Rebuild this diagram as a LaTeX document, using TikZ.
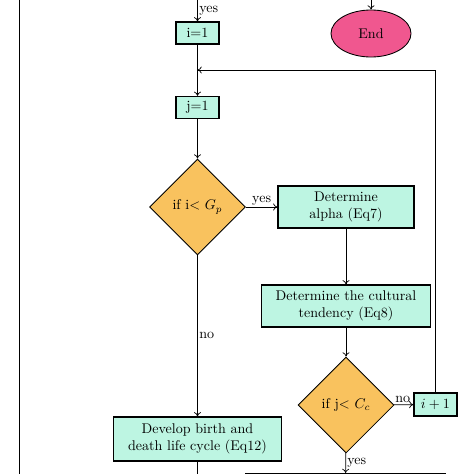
\documentclass[tikz,border=0pt]{standalone}
\usetikzlibrary{shapes.geometric,arrows.meta}
\definecolor{boxfill}{HTML}{BDF5E2}
\definecolor{decfill}{HTML}{F9C25E}
\definecolor{endfill}{HTML}{F0578F}
\tikzset{
  procbox/.style={draw=black, line width=0.9pt, fill=boxfill, align=center, inner sep=1pt},
  decision/.style={draw=black, line width=0.6pt, fill=decfill, diamond, aspect=1, minimum size=2.4cm, inner sep=0pt},
  endnode/.style={draw=black, line width=0.6pt, fill=endfill, ellipse, minimum width=2cm, minimum height=1.175cm, inner sep=0pt},
  conn/.style={draw=black, line width=0.5pt, -{To[length=3pt,width=5pt]}},
  plain/.style={draw=black, line width=0.6pt},
  lbl/.style={inner sep=1pt, font=\normalsize}
}
\begin{document}
\begin{tikzpicture}[x=0.025cm,y=-0.025cm]
\clip (0,0) rectangle (474,474);
% nodes
\node[procbox, minimum width=1.075cm, minimum height=0.55cm] (i1) at (197.5,33) {i=1};
\node[procbox, minimum width=1.075cm, minimum height=0.55cm] (j1) at (197.5,107.5) {j=1};
\node[decision] (d1) at (197.5,207) {if i$<$ $G_p$};
\node[procbox, minimum width=3.4cm, minimum height=1.05cm] (alpha) at (346,207) {Determine\\alpha (Eq7)};
\node[procbox, minimum width=4.225cm, minimum height=1.05cm] (cult) at (346,306) {Determine the cultural\\tendency (Eq8)};
\node[decision] (d2) at (346,405) {if j$<$ $C_c$};
\node[procbox, minimum width=1.075cm, minimum height=0.575cm] (inc) at (435.5,404.5) {$i+1$};
\node[procbox, minimum width=4.2cm, minimum height=1.1cm] (dev) at (197.5,439) {Develop birth and\\death life cycle (Eq12)};
\node[procbox, minimum width=4.975cm, minimum height=1.1cm, anchor=north] (next) at (345.5,473) {};
\node[endnode] (end) at (371,33.5) {End};
% free coordinates
\coordinate (topi) at (197.5,-5);
\coordinate (tope) at (371,-5);
\coordinate (join) at (197.5,70);
\coordinate (corner) at (435.5,70);
\coordinate (devbot) at (197.5,480);
\coordinate (ltop) at (19,-5);
\coordinate (lbot) at (19,480);
% connectors
\draw[plain] (ltop) -- (lbot);
\draw[conn] (topi) -- node[lbl, right, pos=0.58] {yes} (i1);
\draw[conn] (tope) -- (end);
\draw[conn] (i1) -- (j1);
\draw[conn] (inc.north) -- (corner) -- (join);
\draw[conn] (j1) -- (d1);
\draw[conn] (d1) -- node[lbl, above] {yes} (alpha);
\draw[conn] (alpha) -- (cult);
\draw[conn] (cult) -- (d2);
\draw[conn] (d2) -- node[lbl, above, pos=0.45] {no} (inc);
\draw[conn] (d1) -- node[lbl, right, pos=0.5] {no} (dev);
\draw[conn] (d2) -- node[lbl, right, pos=0.5] {yes} (next);
\draw[plain] (dev) -- (devbot);
\end{tikzpicture}
\end{document}
